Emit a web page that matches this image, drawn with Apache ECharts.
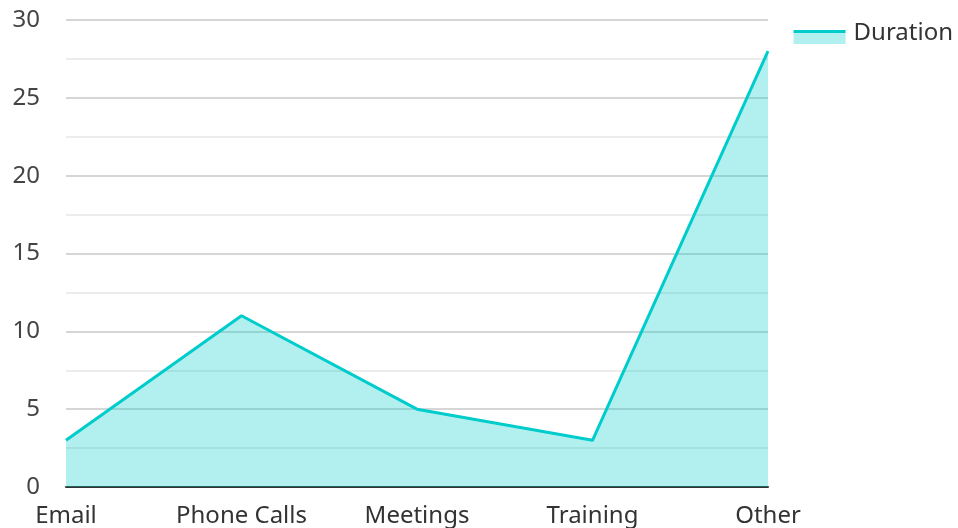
<!DOCTYPE html>
<html>
<head>
<meta charset="utf-8">
<script src="https://cdn.jsdelivr.net/npm/echarts@6/dist/echarts.min.js"></script>
<style>
    html, body { margin: 0; padding: 0; background: #fff; }
    #chart { width: 958px; height: 528px; }
</style>
</head>
<body>
<div id="chart"></div>
<script>
    var categories = ['Email', 'Phone Calls', 'Meetings', 'Training', 'Other'];
    var duration = [3, 11, 5, 3, 28];
    var seriesName = 'Duration';

    var chart = echarts.init(document.getElementById('chart'));
    var option = {
        animation: false,
        textStyle: { fontFamily: 'Noto Sans' },
        legend: {
            right: 0,
            top: 16,
            icon: 'rect',
            itemWidth: 52,
            itemHeight: 22,
            itemGap: 8,
            // legend swatch: line on top, light fill below, transparent above
            itemStyle: {
                color: new echarts.graphic.LinearGradient(0, 0, 0, 1, [
                    { offset: 0, color: 'rgba(255,255,255,0)' },
                    { offset: 0.36, color: 'rgba(255,255,255,0)' },
                    { offset: 0.36, color: '#00cccc' },
                    { offset: 0.52, color: '#00cccc' },
                    { offset: 0.52, color: '#b2efef' },
                    { offset: 1, color: '#b2efef' }
                ])
            },
            textStyle: { fontSize: 24, color: '#333', fontFamily: 'Noto Sans', padding: [0, 0, 0, 3] },
            data: [seriesName]
        },
        grid: { left: 66, right: 190, top: 20, bottom: 41, containLabel: false },
        xAxis: {
            type: 'category',
            boundaryGap: false,
            data: categories,
            axisLine: { lineStyle: { color: '#333', width: 2 } },
            axisTick: { show: false },
            axisLabel: { fontSize: 24, color: '#333', margin: 17, fontFamily: 'Noto Sans' }
        },
        yAxis: {
            type: 'value',
            min: 0,
            max: 30,
            interval: 5,
            axisLine: { show: false },
            axisTick: { show: false },
            axisLabel: { fontSize: 24, color: '#444', margin: 26, fontFamily: 'Noto Sans' },
            splitLine: { lineStyle: { color: '#c8c8c8', width: 1.5 } },
            minorTick: { show: false, splitNumber: 2 },
            minorSplitLine: { show: true, lineStyle: { color: '#e6e6e6', width: 1.5 } }
        },
        series: [{
            name: seriesName,
            type: 'line',
            data: duration,
            symbol: 'none',
            lineStyle: { color: '#00cccc', width: 3 },
            itemStyle: { color: '#00cccc' },
            areaStyle: { color: '#00cccc', opacity: 0.3 }
        }]
    };
    chart.setOption(option);
</script>
</body>
</html>
